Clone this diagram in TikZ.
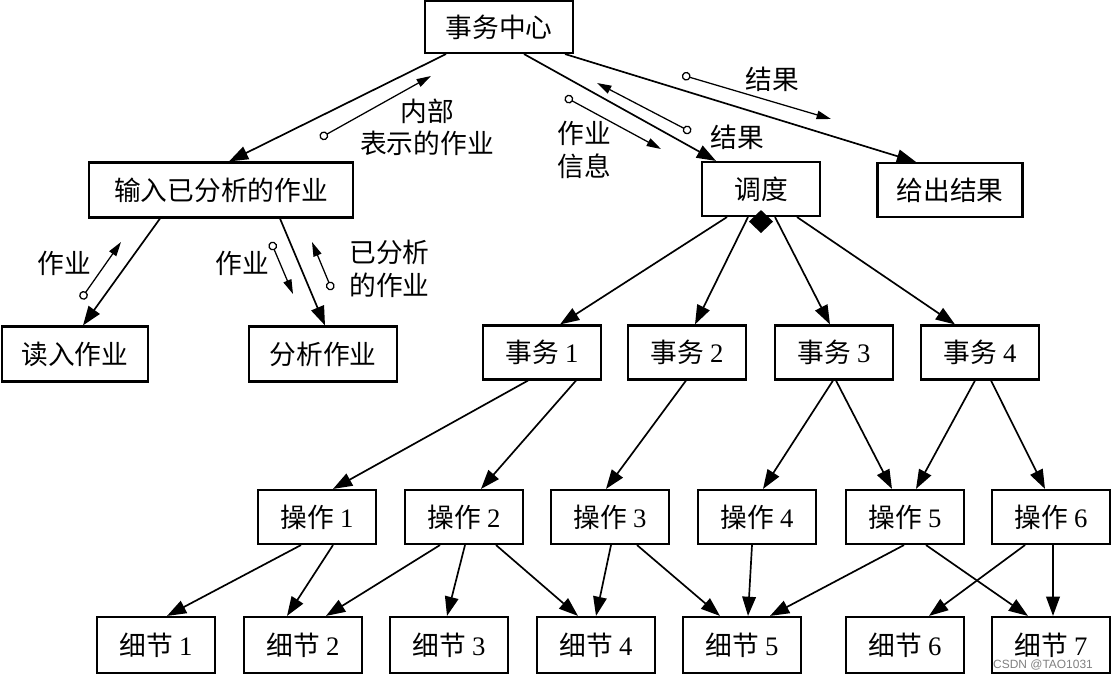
\documentclass[tikz,border=0pt]{standalone}
\usepackage{fontspec}
\setmainfont{Liberation Serif}
\newfontfamily\cjk{Noto Sans CJK SC}
\newfontfamily\wmfont{Liberation Sans}
\usetikzlibrary{arrows.meta, calc}
\newcommand\zhsize{\fontsize{19}{23}\selectfont}
\newcommand\dg[1]{{\rmfamily #1}}

\tikzset{
  box/.style={draw, line width=1.5pt, minimum width=2.95cm, minimum height=1.35cm, inner sep=0pt, font=\zhsize\cjk},
  link/.style={line width=1.2pt, -{Triangle[length=4.8mm,width=3.4mm]}},
  flow/.style={line width=0.9pt, {Circle[open,length=2.2mm,width=2.2mm]}-{Triangle[length=3.6mm,width=2.1mm]}},
  lbl/.style={font=\zhsize\cjk, inner sep=0pt}
}

\begin{document}
\begin{tikzpicture}[x=0.025cm, y=-0.025cm]
\useasboundingbox (0,0) rectangle (1112,675);

% top level
\node[box, minimum width=3.7cm, minimum height=1.3cm] (zx) at (499,27) {事务中心};
\node[box, minimum width=6.6cm, minimum height=1.375cm] (sr) at (221,190) {输入已分析的作业};
\node[box, minimum width=3.65cm, minimum height=1.375cm] (dr) at (75,354) {读入作业};
\node[box, minimum width=3.7cm, minimum height=1.375cm] (fx) at (323,354) {分析作业};
\node[box] (dd) at (761,189) {调度};
\node[box, minimum width=3.625cm] (jg) at (950,190) {给出结果};

% transactions, operations, details
\node[box] (sw1) at (542,352.5) {事务 \dg{1}};
\node[box] (sw2) at (687,352.5) {事务 \dg{2}};
\node[box] (sw3) at (834,352.5) {事务 \dg{3}};
\node[box] (sw4) at (980,352.5) {事务 \dg{4}};
\foreach \i/\x in {1/317,2/464,3/610,4/757,5/905,6/1051}
  \node[box] (cz\i) at (\x,517) {操作 \dg{\i}};
\foreach \i/\x in {1/156,2/303,3/449,4/596,5/742,6/905,7/1051}
  \node[box, minimum height=1.4cm] (xj\i) at (\x,645) {细节 \dg{\i}};

% diamond under the dispatcher
\fill ($(dd.south)+(0,-7)$) -- ++(12,11.5) -- ++(-12,11.5) -- ++(-12,-11.5) -- cycle;

% main connectors
\draw[link] ($(zx.south)+(-53,0)$) -- ($(sr.north)+(8,0)$);
\draw[link] ($(zx.south)+(25,0)$) -- ($(dd.north)+(-45,0)$);
\draw[link] ($(zx.south)+(66,0)$) -- ($(jg.north)+(-34,0)$);
\draw[link] ($(sr.south)+(-61,0)$) -- ($(dr.north)+(8,0)$);
\draw[link] ($(sr.south)+(59,0)$) -- ($(fx.north)+(2,0)$);
\foreach \b/\p/\q in {sw1/-34/18, sw2/-13/8, sw3/14/-4, sw4/36/-25}
  \draw[link] ($(dd.south)+(\p,0)$) -- ($(\b.north)+(\q,0)$);
\foreach \a/\p/\b/\q in {sw1/-14/cz1/16, sw1/34/cz2/17, sw2/-1/cz3/-4, sw3/-1/cz4/6,
    sw3/2/cz5/-13, sw4/-5/cz5/11, sw4/11/cz6/-6}
  \draw[link] ($(\a.south)+(\p,0)$) -- ($(\b.north)+(\q,0)$);
\foreach \a/\p/\b/\q in {cz1/-16/xj1/11, cz1/16/xj2/-16, cz2/-24/xj2/23, cz2/1/xj3/-2,
    cz2/32/xj4/-18, cz3/1/xj4/0, cz3/27/xj5/-22, cz4/-5/xj5/6, cz5/-1/xj5/28,
    cz5/21/xj7/-23, cz6/-26/xj6/24, cz6/2/xj7/2}
  \draw[link] ($(\a.south)+(\p,0)$) -- ($(\b.north)+(\q,0)$);

% data flows
\coordinate (nb0) at (320,138); \coordinate (nb1) at (431,76);
\coordinate (xx0) at (565,97); \coordinate (xx1) at (661,149);
\coordinate (jga0) at (691,132); \coordinate (jga1) at (597,83);
\coordinate (jgb0) at (682,75); \coordinate (jgb1) at (831,119);
\coordinate (zya0) at (81,299); \coordinate (zya1) at (121,242);
\coordinate (zyb0) at (271,242); \coordinate (zyb1) at (293,294);
\coordinate (yf0) at (332,290); \coordinate (yf1) at (312,242);
\foreach \s in {nb, xx, jga, jgb, zya, zyb, yf}
  \draw[flow] (\s0) -- (\s1);

\node[lbl, align=center] (nbt) at (427,127) {内部\\表示的作业};
\node[lbl, align=left, anchor=west] (xxt) at (557,150) {作业\\信息};
\node[lbl] (jgat) at (737,137) {结果};
\node[lbl] (jgbt) at (772,79) {结果};
\node[lbl] (zyat) at (64,263) {作业};
\node[lbl] (zybt) at (242,263) {作业};
\node[lbl, align=left, anchor=west] (yft) at (349,269) {已分析\\的作业};

\node[font=\wmfont\fontsize{8.5}{9}\selectfont, text=gray, inner sep=0pt] (wm) at (1043,665) {CSDN @TAO1031};
\end{tikzpicture}
\end{document}
